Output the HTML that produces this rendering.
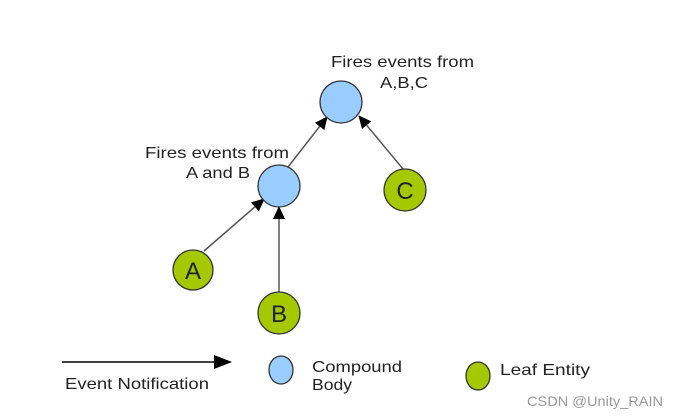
<!DOCTYPE html>
<html><head><style>body{margin:0;background:#fff}svg{display:block}text{font-family:"Liberation Sans",sans-serif;fill:#222}</style></head><body>
<svg width="678" height="417" viewBox="0 0 678 417" xmlns="http://www.w3.org/2000/svg">
<defs><marker id="m" markerWidth="13" markerHeight="12" refX="12" refY="6" orient="auto" markerUnits="userSpaceOnUse"><path d="M0,0 L13,6 L0,12 z" fill="#000"/></marker></defs>
<g stroke="#555" stroke-width="1.5" fill="none">
<line x1="288" y1="167" x2="327" y2="117" marker-end="url(#m)"/>
<line x1="403" y1="169" x2="359" y2="116" marker-end="url(#m)"/>
<line x1="204" y1="251" x2="264" y2="199" marker-end="url(#m)"/>
<line x1="279" y1="292" x2="279" y2="207" marker-end="url(#m)"/>
</g>
<g stroke="#333" stroke-width="1.3">
<circle cx="341" cy="102" r="21" fill="#99ccff"/>
<circle cx="279" cy="186" r="21" fill="#99ccff"/>
<circle cx="405" cy="190" r="21" fill="#a6c800"/>
<circle cx="193" cy="270" r="20" fill="#a6c800"/>
<circle cx="279" cy="313" r="21" fill="#a6c800"/>
<ellipse cx="281" cy="370" rx="12" ry="14" fill="#99ccff"/>
<ellipse cx="478" cy="376" rx="12" ry="14" fill="#a6c800"/>
</g>
<g font-size="24" text-anchor="middle">
<text x="405" y="199">C</text><text x="193" y="279">A</text><text x="279" y="322">B</text>
</g>
<g font-size="16">
<text x="331" y="67" textLength="143" lengthAdjust="spacingAndGlyphs">Fires events from</text>
<text x="380" y="88" textLength="48" lengthAdjust="spacingAndGlyphs">A,B,C</text>
<text x="145" y="158" textLength="144" lengthAdjust="spacingAndGlyphs">Fires events from</text>
<text x="186" y="178" textLength="64" lengthAdjust="spacingAndGlyphs">A and B</text>
<text x="65" y="389" textLength="144" lengthAdjust="spacingAndGlyphs">Event Notification</text>
<text x="312" y="372" textLength="90" lengthAdjust="spacingAndGlyphs">Compound</text>
<text x="312" y="390" textLength="40" lengthAdjust="spacingAndGlyphs">Body</text>
<text x="500" y="375" textLength="90" lengthAdjust="spacingAndGlyphs">Leaf Entity</text>
</g>
<line x1="62" y1="362" x2="230" y2="362" stroke="#000" stroke-width="1.5"/>
<path d="M214,355 L232,362 L214,369 z" fill="#000"/>
<text x="527" y="406" font-size="14" textLength="136" lengthAdjust="spacingAndGlyphs" style="fill:#999">CSDN @Unity_RAIN</text>
</svg>
</body></html>
